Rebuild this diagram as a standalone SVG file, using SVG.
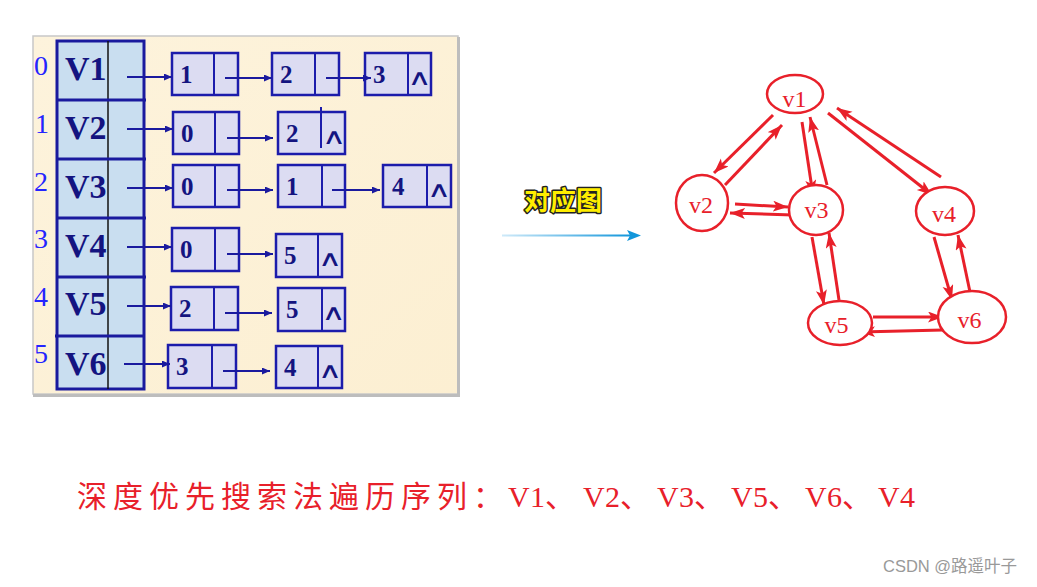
<svg xmlns="http://www.w3.org/2000/svg" width="1037" height="587" viewBox="0 0 1037 587">
<style>
.tbl{fill:#c9def0;stroke:#1a1a9e;stroke-width:3}
.sep{stroke:#1a1a9e;stroke-width:3}
.div{stroke:#111;stroke-width:1.5}
.nb{fill:#dcdcf2;stroke:#1c1cab;stroke-width:2.5}
.nd{stroke:#1c1cab;stroke-width:2}
.vl{font-family:"Liberation Serif",serif;font-weight:bold;font-size:34px;fill:#141480}
.ix{font-family:"Liberation Serif",serif;font-size:28px;fill:#2424ff}
.dg{font-family:"Liberation Serif",serif;font-weight:bold;font-size:25px;fill:#141480}
.nil{font-family:"DejaVu Sans",sans-serif;font-size:22px;fill:#141480;text-anchor:middle}
.pa{stroke:#1a1a9e;stroke-width:2;fill:none;marker-end:url(#pa)}
.ge{fill:#fff;stroke:#e8202a;stroke-width:2.5}
.gl{font-family:"Liberation Serif",serif;font-size:24px;fill:#e8202a;text-anchor:middle}
.ga{stroke:#e8202a;stroke-width:3;fill:none;marker-end:url(#ra)}
</style>
<defs>
<marker id="pa" markerUnits="userSpaceOnUse" markerWidth="9" markerHeight="8" refX="8" refY="3.5" orient="auto">
<path d="M0,0 L8,3.5 L0,7 z" fill="#1a1a9e"/>
</marker>
<marker id="ra" markerUnits="userSpaceOnUse" markerWidth="16" markerHeight="12" refX="15" refY="5.5" orient="auto">
<path d="M0,0 L15,5.5 L0,11 L3.5,5.5 z" fill="#e8202a"/>
</marker>
<linearGradient id="bg" x1="0" y1="0" x2="1" y2="1">
<stop offset="0" stop-color="#fdf3dc"/>
<stop offset="1" stop-color="#fcefd2"/>
</linearGradient>
<linearGradient id="ba" gradientUnits="userSpaceOnUse" x1="502" y1="0" x2="630" y2="0">
<stop offset="0" stop-color="#cfeaf9"/>
<stop offset="1" stop-color="#1296db"/>
</linearGradient>
</defs>
<rect width="1037" height="587" fill="#fff"/>
<!-- left panel -->
<g id="panel">
<rect x="33" y="36" width="425" height="358" fill="url(#bg)" stroke="#c8c8c8" stroke-width="1.5"/>
<path d="M458.5,37 V395.5 H33" fill="none" stroke="#bdbdbd" stroke-width="3"/>
</g>
<g id="table">
<rect class="tbl" x="57" y="41" width="87" height="348"/>
<line class="div" x1="108" y1="41" x2="108" y2="389"/>
<line class="sep" x1="57" y1="100" x2="146" y2="100"/>
<line class="sep" x1="57" y1="159" x2="146" y2="159"/>
<line class="sep" x1="57" y1="218" x2="146" y2="218"/>
<line class="sep" x1="57" y1="277" x2="146" y2="277"/>
<line class="sep" x1="55" y1="336" x2="144" y2="336"/>
<text class="vl" x="65" y="80">V1</text>
<text class="vl" x="65" y="139">V2</text>
<text class="vl" x="65" y="198">V3</text>
<text class="vl" x="65" y="257">V4</text>
<text class="vl" x="65" y="315">V5</text>
<text class="vl" x="65" y="375">V6</text>
<text class="ix" x="34" y="75">0</text>
<text class="ix" x="35" y="133">1</text>
<text class="ix" x="34" y="191">2</text>
<text class="ix" x="34" y="248">3</text>
<text class="ix" x="34" y="306">4</text>
<text class="ix" x="34" y="363">5</text>
</g>
<g id="row1">
<rect class="nb" x="172" y="53" width="66" height="42"/><line class="nd" x1="214" y1="53" x2="214" y2="95"/><text class="dg" x="180" y="83">1</text>
<rect class="nb" x="272" y="53" width="67" height="42"/><line class="nd" x1="315" y1="53" x2="315" y2="95"/><text class="dg" x="280" y="83">2</text>
<rect class="nb" x="365" y="53" width="66" height="42"/><line class="nd" x1="408" y1="53" x2="408" y2="95"/><text class="dg" x="373" y="83">3</text><text class="nil" transform="translate(419.5,85) scale(1.5,1)">∧</text>
</g>
<g id="row2">
<rect class="nb" x="173" y="112" width="66" height="42"/><line class="nd" x1="215" y1="112" x2="215" y2="154"/><text class="dg" x="181" y="142">0</text>
<rect class="nb" x="278" y="112" width="67" height="42"/><line class="nd" x1="321" y1="107" x2="321" y2="148"/><text class="dg" x="286" y="142">2</text><text class="nil" transform="translate(334,144) scale(1.5,1)">∧</text>
</g>
<g id="row3">
<rect class="nb" x="173" y="165" width="66" height="42"/><line class="nd" x1="215" y1="165" x2="215" y2="207"/><text class="dg" x="181" y="195">0</text>
<rect class="nb" x="278" y="165" width="67" height="42"/><line class="nd" x1="322" y1="165" x2="322" y2="207"/><text class="dg" x="286" y="195">1</text>
<rect class="nb" x="383" y="165" width="68" height="42"/><line class="nd" x1="427" y1="165" x2="427" y2="207"/><text class="dg" x="392" y="195">4</text><text class="nil" transform="translate(439,197) scale(1.5,1)">∧</text>
</g>
<g id="row4">
<rect class="nb" x="172" y="228" width="67" height="43"/><line class="nd" x1="215" y1="228" x2="215" y2="271"/><text class="dg" x="180" y="258">0</text>
<rect class="nb" x="276" y="234" width="66" height="43"/><line class="nd" x1="318" y1="234" x2="318" y2="277"/><text class="dg" x="284" y="264">5</text><text class="nil" transform="translate(330,266) scale(1.5,1)">∧</text>
</g>
<g id="row5">
<rect class="nb" x="171" y="287" width="67" height="43"/><line class="nd" x1="214" y1="287" x2="214" y2="330"/><text class="dg" x="179" y="317">2</text>
<rect class="nb" x="278" y="288" width="67" height="43"/><line class="nd" x1="322" y1="288" x2="322" y2="331"/><text class="dg" x="286" y="318">5</text><text class="nil" transform="translate(333.5,320) scale(1.5,1)">∧</text>
</g>
<g id="row6">
<rect class="nb" x="168" y="345" width="68" height="43"/><line class="nd" x1="212" y1="345" x2="212" y2="388"/><text class="dg" x="176" y="375">3</text>
<rect class="nb" x="276" y="346" width="66" height="42"/><line class="nd" x1="318" y1="346" x2="318" y2="388"/><text class="dg" x="284" y="376">4</text><text class="nil" transform="translate(330,378) scale(1.5,1)">∧</text>
</g>
<g id="list-links">
<line class="pa" x1="127" y1="77" x2="172" y2="77"/>
<line class="pa" x1="225" y1="78" x2="272" y2="78"/>
<line class="pa" x1="326" y1="78" x2="371" y2="78"/>
<line class="pa" x1="127" y1="129" x2="173" y2="129"/>
<line class="pa" x1="227" y1="138" x2="273" y2="138"/>
<line class="pa" x1="127" y1="188" x2="173" y2="188"/>
<line class="pa" x1="227" y1="190" x2="273" y2="190"/>
<line class="pa" x1="332" y1="190" x2="380" y2="190"/>
<line class="pa" x1="127" y1="247" x2="172" y2="247"/>
<line class="pa" x1="227" y1="254" x2="273" y2="254"/>
<line class="pa" x1="127" y1="306" x2="171" y2="306"/>
<line class="pa" x1="225" y1="313" x2="272" y2="313"/>
<line class="pa" x1="124" y1="364" x2="170" y2="364"/>
<line class="pa" x1="223" y1="371" x2="270" y2="371"/>
</g>
<!-- middle -->
<g id="map-label">
<text x="563" y="210" text-anchor="middle" font-family="'Noto Sans CJK SC',sans-serif" font-weight="bold" font-size="26" fill="#ffee00" stroke="#222" stroke-width="3" stroke-linejoin="round" paint-order="stroke">对应图</text>
<line x1="502" y1="235.5" x2="630" y2="235.5" stroke="url(#ba)" stroke-width="2.2"/>
<polygon points="627,230 641,235.5 627,241 630,235.5" fill="#1296db"/>
</g>
<!-- graph -->
<g id="edges">
<line class="ga" x1="773" y1="115" x2="714" y2="173"/>
<line class="ga" x1="725" y1="185" x2="782" y2="125"/>
<line class="ga" x1="802" y1="122" x2="813" y2="195"/>
<line class="ga" x1="827" y1="185" x2="810" y2="117"/>
<line class="ga" x1="828" y1="113" x2="932" y2="195"/>
<line class="ga" x1="941" y1="177" x2="837" y2="108"/>
<line class="ga" x1="735" y1="204" x2="788" y2="207"/>
<line class="ga" x1="793" y1="215" x2="730" y2="213"/>
<line class="ga" x1="812" y1="237" x2="824" y2="305"/>
<line class="ga" x1="839" y1="300" x2="829" y2="233"/>
<line class="ga" x1="934" y1="237" x2="952" y2="300"/>
<line class="ga" x1="970" y1="292" x2="958" y2="235"/>
<line class="ga" x1="873" y1="317" x2="943" y2="317"/>
<line class="ga" x1="943" y1="330" x2="860" y2="332"/>
</g>
<g id="v1"><ellipse class="ge" cx="795" cy="94" rx="28" ry="19"/><text class="gl" x="794.5" y="107">v1</text></g>
<g id="v2"><ellipse class="ge" cx="702" cy="203" rx="26" ry="28"/><text class="gl" x="701" y="213">v2</text></g>
<g id="v3"><ellipse class="ge" cx="816" cy="210" rx="27" ry="25"/><text class="gl" x="816.5" y="218">v3</text></g>
<g id="v4"><ellipse class="ge" cx="945" cy="211" rx="29" ry="24"/><text class="gl" x="944" y="222">v4</text></g>
<g id="v5"><ellipse class="ge" cx="840" cy="323" rx="32" ry="22"/><text class="gl" x="836.5" y="333">v5</text></g>
<g id="v6"><ellipse class="ge" cx="972" cy="317" rx="34" ry="26"/><text class="gl" x="969.5" y="328">v6</text></g>
<!-- caption -->
<text id="caption" y="507" font-family="'Liberation Serif','Noto Sans CJK SC',serif" font-size="30" fill="#e8202a" x="77 113 149 185 221 257 293 329 365 401 437 473 508 530 545 583 605 620 657 679 694 731 753 768 805 827 842 878 900">深度优先搜索法遍历序列：V1、V2、V3、V5、V6、V4</text>
<text id="watermark" x="883" y="572" font-family="'Liberation Sans','Noto Sans CJK SC',sans-serif" font-size="16.5" fill="#999">CSDN @路遥叶子</text>
</svg>
